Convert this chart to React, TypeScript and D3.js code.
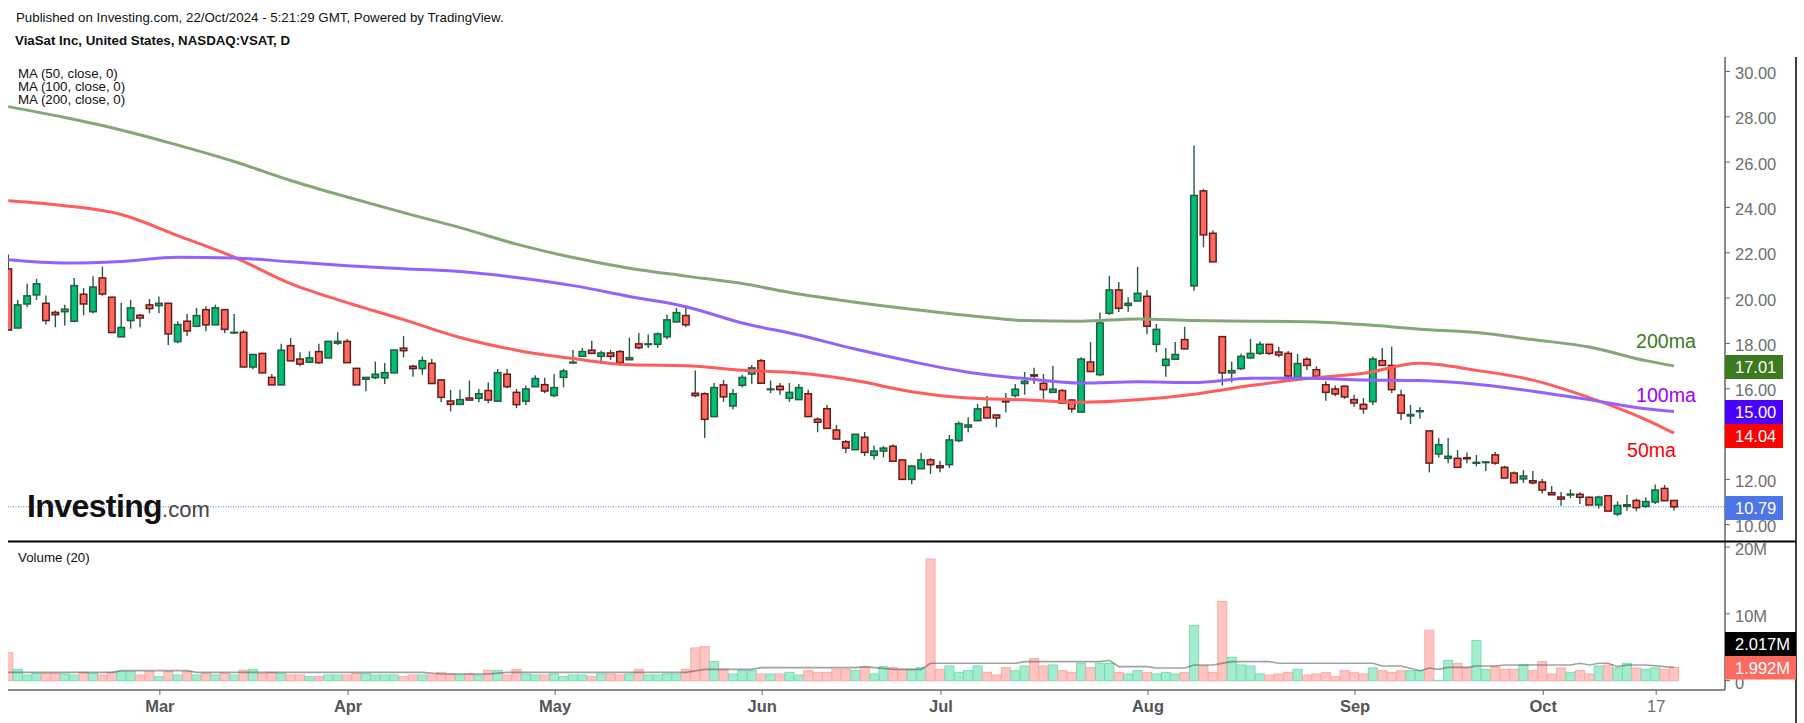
import * as React from "react";
import * as d3 from "d3";

// daily candles, one entry per session from the left edge of the chart
const opens = [21.29,18.68,19.74,20.14,19.77,19.37,19.40,18.98,20.17,19.40,20.89,20.04,18.29,19.01,19.24,19.70,19.67,19.77,18.08,18.98,18.76,19.49,18.82,19.49,18.46,18.49,16.96,17.56,16.50,16.17,17.90,
  17.31,17.17,17.64,17.36,18.01,18.09,16.90,16.42,16.49,16.48,16.70,17.79,16.99,16.89,17.12,16.39,15.46,15.31,15.59,15.58,15.92,15.45,16.64,15.84,15.45,16.09,16.18,15.70,16.50,17.14,17.43,17.70,
  17.43,17.58,17.64,17.28,17.98,17.95,17.96,18.29,18.95,19.23,15.80,15.78,14.77,16.17,15.24,16.15,16.65,17.24,15.96,16.11,15.58,15.52,15.78,14.65,15.12,14.18,13.66,13.31,13.86,13.06,13.25,13.46,
  12.86,12.00,12.47,12.86,12.60,12.65,13.71,14.31,14.59,15.18,14.84,15.47,15.70,16.23,16.61,16.24,15.84,15.92,15.50,
  14.97,17.18,16.62,19.33,20.36,19.68,19.87,20.08,17.96,17.03,17.30,18.17,20.54,24.73,22.86,18.30,16.70,16.89,17.36,17.56,17.96,17.62,17.56,16.50,17.30,16.84,16.18,15.99,
  16.11,15.52,15.31,15.43,17.24,17.03,15.72,14.80,14.99,14.14,13.12,12.93,12.93,12.96,12.71,12.74,13.08,12.53,12.28,12.02,11.94,11.88,11.41,11.22,11.31,11.34,11.21,10.87,11.28,10.47,10.81,11.07,10.81,11.00,11.60,11.07];
const highs = [21.92,19.92,20.63,20.85,20.11,19.45,19.71,20.89,20.45,20.96,21.39,20.04,19.79,19.92,19.30,19.96,20.07,19.80,18.98,19.30,19.57,19.64,19.71,19.51,19.30,18.59,17.54,17.58,16.65,17.98,18.24,
  17.61,17.65,17.98,18.09,18.49,18.20,16.92,16.50,17.20,17.14,17.71,18.33,17.06,17.42,17.31,16.39,15.95,15.95,16.36,15.99,16.27,16.87,16.87,15.99,16.14,16.59,16.48,16.65,16.87,17.71,17.80,18.12,
  17.68,17.71,17.71,18.26,18.46,18.39,18.49,19.26,19.57,19.70,16.80,15.84,16.25,16.39,15.99,16.61,17.05,17.31,16.36,16.25,16.25,16.21,15.95,14.74,15.28,14.40,13.74,13.99,14.09,13.49,13.47,13.55,
  12.90,12.62,13.16,12.94,12.81,13.96,14.55,14.74,15.33,15.68,14.86,15.81,16.21,16.74,16.93,16.65,17.01,15.98,15.55,
  17.39,18.06,19.37,20.98,20.71,20.04,21.38,20.36,18.86,17.80,18.06,18.73,26.73,24.82,22.98,18.32,17.20,17.54,18.20,18.09,17.98,17.84,17.67,17.54,17.39,16.99,16.33,16.14,
  16.14,15.74,15.59,17.42,17.80,17.86,15.95,15.28,15.18,14.14,13.81,13.83,13.30,13.19,13.08,12.80,13.21,12.60,12.35,12.41,12.37,12.02,11.71,11.44,11.56,11.43,11.24,11.28,11.30,11.03,11.31,11.16,11.21,11.77,11.75,11.09];
const lows = [18.59,18.68,19.60,19.92,18.83,18.71,18.79,18.93,19.24,19.33,20.11,18.48,18.29,18.65,18.71,19.33,19.33,17.93,18.01,18.33,18.71,18.54,18.82,18.45,18.42,16.96,16.86,16.70,16.17,16.17,17.23,
  16.99,17.14,17.09,17.36,17.93,17.15,16.17,15.89,16.42,16.21,16.70,17.39,16.53,16.62,16.23,15.40,15.00,15.28,15.50,15.40,15.36,15.45,16.02,15.14,15.28,16.09,15.80,15.62,16.06,17.09,17.43,17.53,
  17.09,17.27,17.01,17.28,17.74,17.80,17.80,18.18,18.95,18.71,15.62,13.83,14.77,15.42,15.09,16.06,16.21,16.21,15.81,15.74,15.42,15.50,14.77,14.08,14.25,13.78,13.15,13.31,13.03,12.88,12.97,12.80,
  12.00,11.78,12.47,12.24,12.31,12.50,13.64,14.08,14.59,14.71,14.30,14.96,15.61,15.74,16.21,15.55,15.84,15.37,14.94,
  14.97,16.76,16.55,19.26,19.39,19.39,19.87,18.40,17.61,16.53,17.30,17.76,20.32,22.24,21.60,16.14,16.28,16.83,17.33,17.49,17.49,17.39,16.36,16.50,16.83,16.42,15.47,15.67,
  15.55,15.21,14.89,15.28,17.01,15.81,14.62,14.44,14.69,12.31,12.97,12.71,12.53,12.71,12.58,12.37,12.65,12.06,11.85,11.84,11.77,11.38,11.32,10.84,11.18,10.91,10.87,10.72,10.60,10.38,10.62,10.59,10.74,10.91,11.06,10.63];
const closes = [18.59,19.70,20.10,20.63,19.01,19.27,19.51,20.55,19.74,20.49,20.18,18.48,18.70,19.57,19.12,19.54,19.77,18.42,18.83,18.55,19.23,18.82,19.57,18.62,18.49,16.96,17.51,16.70,16.17,17.70,17.23,
  17.09,17.36,17.15,18.09,18.09,17.15,16.17,16.50,16.64,16.71,17.71,17.68,16.89,17.24,16.23,15.62,15.31,15.52,15.50,15.78,15.50,16.71,16.09,15.30,15.99,16.45,15.90,16.05,16.78,17.17,17.64,17.56,
  17.58,17.43,17.15,17.37,17.81,17.98,18.42,19.04,19.36,18.82,15.70,14.65,16.05,15.64,15.78,16.50,16.92,16.24,15.99,15.96,15.84,16.05,14.77,14.52,14.25,13.78,13.38,13.99,13.19,13.25,13.38,12.80,
  12.00,12.59,12.86,12.65,12.52,13.74,14.46,14.40,15.11,14.71,14.71,15.42,15.98,16.33,16.56,15.96,15.98,15.37,15.11,
  17.31,16.76,18.90,20.36,19.55,19.77,20.21,18.76,18.62,17.30,17.51,17.76,24.53,22.79,21.60,16.70,16.80,17.43,17.56,17.96,17.56,17.49,16.56,17.11,17.03,16.55,15.84,15.77,
  15.64,15.37,15.11,17.31,17.03,15.96,14.92,14.86,15.03,12.72,13.53,13.02,12.53,12.91,12.75,12.77,12.72,12.06,11.85,12.15,11.85,11.53,11.32,11.13,11.35,11.21,10.87,11.22,10.60,10.85,10.88,10.75,11.02,11.53,11.06,10.79];
const volumes = [4.20,1.70,0.85,1.10,1.10,1.10,1.00,0.85,1.25,1.10,0.85,1.25,1.35,1.35,0.85,1.35,0.60,1.35,0.85,1.35,0.85,1.10,0.85,1.10,0.85,1.55,1.70,1.10,1.25,1.05,0.85,0.85,0.60,0.60,0.85,0.85,0.85,1.10,1.05,0.85,0.85,0.85,0.60,0.85,0.85,0.85,1.25,
  1.00,0.85,1.00,0.85,1.55,1.55,0.85,1.70,1.00,0.85,0.85,1.00,0.60,0.85,0.85,0.60,1.00,1.00,0.85,1.00,1.70,0.85,0.85,1.00,1.00,1.70,4.90,5.10,2.85,1.70,1.00,1.50,1.50,1.00,1.00,1.00,1.25,0.85,1.50,1.25,1.25,1.70,1.70,1.50,2.00,1.00,2.10,1.95,
  1.70,1.70,1.95,18.20,1.70,2.20,1.25,1.50,2.20,1.25,0.85,1.95,1.50,2.20,3.30,2.20,2.35,1.50,1.25,2.60,1.95,2.60,2.60,1.25,1.00,1.50,1.25,1.00,1.25,1.00,1.25,8.25,2.20,1.25,11.85,3.50,2.35,2.20,1.00,0.85,1.00,1.25,1.70,0.85,1.00,1.25,0.60,1.50,
  1.25,1.00,1.90,1.50,1.25,1.50,1.50,1.50,7.55,0.05,3.05,2.60,1.90,6.00,1.70,2.10,1.70,1.70,2.35,1.50,2.85,1.00,1.90,1.25,1.50,1.00,2.20,2.35,1.90,2.60,1.90,1.70,1.90,1.70,1.99];

// moving averages read every sixth session
const maSessions = [0,6,12,18,24,30,36,42,48,54,60,66,72,78,84,90,96,102,108,114,120,126,132,138,144,150,156,162,168,174,177];
const ma50 = [24.30,24.08,23.69,22.76,21.81,20.64,19.80,19.05,18.26,17.70,17.33,17.06,17.02,16.82,16.69,16.36,15.87,15.59,15.51,15.40,15.51,15.76,16.14,16.45,16.68,17.12,16.81,16.38,15.61,14.64,14.04];
const ma100 = [21.69,21.55,21.62,21.80,21.77,21.60,21.43,21.30,21.17,20.91,20.55,20.07,19.62,18.90,18.37,17.75,17.20,16.73,16.45,16.25,16.31,16.27,16.46,16.46,16.39,16.36,16.20,15.89,15.52,15.12,15.00];
const ma200 = [28.45,27.97,27.42,26.75,26.03,25.19,24.46,23.77,23.11,22.38,21.79,21.32,20.97,20.64,20.18,19.82,19.51,19.23,19.01,18.98,19.08,19.01,18.98,18.96,18.83,18.63,18.48,18.17,17.84,17.24,17.01];

const volMaSessions = [0,11,12,19,20,44,46,51,53,72,74,79,80,90,91,94,97,98,107,108,116,117,118,121,122,125,126,128,130,134,135,143,145,146,148,150,151,152,153,155,156,158,159,166,167,168,169,170,171,172,174,176,177];
const volMa = [1.25,1.25,1.5,1.5,1.25,1.25,1.0,1.0,1.25,1.25,1.7,1.7,1.95,1.95,2.1,1.7,1.7,2.6,2.6,2.85,2.85,3.05,2.1,2.1,1.9,1.9,2.35,2.35,2.85,2.85,2.6,2.6,2.6,2.2,2.2,1.5,1.9,1.7,2.0,2.0,2.2,2.2,2.35,2.35,2.6,2.35,2.6,2.6,2.1,2.35,2.35,2.1,2.02];

const priceTicks = [10,12,14,16,18,20,22,24,26,28,30];
const volumeTicks = [0,10,20];
const monthTicks = [["Mar",16],["Apr",36],["May",58],["Jun",80],["Jul",99],["Aug",121],["Sep",143],["Oct",163]] as [string, number][];
const dayTicks = [["17",175]] as [string, number][];

const FONT = "'Liberation Sans', Arial, sans-serif";

function drawChart(node: SVGSVGElement) {
  const svg = d3.select(node);
  svg.selectAll("*").remove();

  const x = d3.scaleLinear().domain([0, 177]).range([8.3, 1674]);
  const y = d3.scaleLinear().domain([10, 30]).range([524.7, 71.5]);
  const yVol = d3.scaleLinear().domain([0, 20]).range([680.7, 547]);
  const bodyW = 6.5;
  const barW = 9.4;

  svg.append("clipPath").attr("id", "plot").append("rect")
    .attr("x", 8).attr("y", 50).attr("width", 1717).attr("height", 640);

  const plot = svg.append("g").attr("clip-path", "url(#plot)");
  const sessions = d3.range(opens.length);
  const isUp = (i: number) => closes[i] >= opens[i];

  // volume
  plot.append("g").selectAll("rect").data(sessions).enter().append("rect")
    .attr("x", (i) => x(i) - barW / 2 + 0.2)
    .attr("y", (i) => yVol(volumes[i]))
    .attr("width", barW - 0.4)
    .attr("height", (i) => yVol(0) - yVol(volumes[i]))
    .attr("fill", (i) => (isUp(i) ? "#a5eccf" : "#ffc5c2"))
    .attr("stroke", (i) => (isUp(i) ? "#72e0b4" : "#ffa9a4"))
    .attr("stroke-width", 1);

  plot.append("path")
    .attr("d", d3.line<number>().x((s) => x(s)).y((_, k) => yVol(volMa[k]))(volMaSessions))
    .attr("fill", "none").attr("stroke", "#555").attr("stroke-opacity", 0.55).attr("stroke-width", 1.6);

  // last price line
  plot.append("line")
    .attr("x1", 8).attr("x2", 1725).attr("y1", y(10.79)).attr("y2", y(10.79))
    .attr("stroke", "#4d74e8").attr("stroke-dasharray", "1 1.5");

  // candles
  const candle = plot.append("g").selectAll("g").data(sessions).enter().append("g");
  candle.append("line")
    .attr("x1", (i) => x(i)).attr("x2", (i) => x(i))
    .attr("y1", (i) => y(highs[i])).attr("y2", (i) => y(lows[i]))
    .attr("stroke", "#235c40").attr("stroke-width", 1.4);
  candle.append("rect")
    .attr("x", (i) => x(i) - bodyW / 2)
    .attr("y", (i) => y(Math.max(opens[i], closes[i])))
    .attr("width", bodyW)
    .attr("height", (i) => Math.abs(y(opens[i]) - y(closes[i])))
    .attr("fill", (i) => (isUp(i) ? "#00c073" : "#ff6a5e"))
    .attr("stroke", (i) => (isUp(i) ? "#235c40" : "#641c1c"))
    .attr("stroke-width", 1.5);

  // moving averages
  const maLine = d3.line<number>().x((s) => x(s)).curve(d3.curveMonotoneX);
  ([[ma200, "#83a878"], [ma50, "#ff5c5c"], [ma100, "#9461ff"]] as [number[], string][]).forEach(([values, colour]) => {
    plot.append("path")
      .attr("d", maLine.y((_, k) => y(values[k]))(maSessions))
      .attr("fill", "none").attr("stroke", colour).attr("stroke-width", 3);
  });

  // frame
  const frame = svg.append("g");
  frame.append("line").attr("x1", 8).attr("x2", 1725).attr("y1", 690).attr("y2", 690).attr("stroke", "#666").attr("stroke-width", 1.5);
  frame.append("line").attr("x1", 1725).attr("x2", 1725).attr("y1", 57).attr("y2", 690).attr("stroke", "#666").attr("stroke-width", 1.5);
  frame.append("line").attr("x1", 1796).attr("x2", 1796).attr("y1", 57).attr("y2", 723).attr("stroke", "#000").attr("stroke-width", 1.5);
  frame.append("line").attr("x1", 8).attr("x2", 1796).attr("y1", 541.5).attr("y2", 541.5).attr("stroke", "#000").attr("stroke-width", 2);

  const text = (parent: d3.Selection<any, any, any, any>, tx: number, ty: number, s: string, size: number, fill: string, weight = "normal", anchor = "start") =>
    parent.append("text").attr("x", tx).attr("y", ty).attr("font-family", FONT).attr("font-size", size)
      .attr("fill", fill).attr("font-weight", weight).attr("text-anchor", anchor).text(s);

  // right axes
  const axis = svg.append("g");
  priceTicks.forEach((t) => {
    axis.append("line").attr("x1", 1725).attr("x2", 1730).attr("y1", y(t)).attr("y2", y(t)).attr("stroke", "#666");
    text(axis, 1735, y(t) + 7.5, t.toFixed(2), 16.5, "#6e6e6e");
  });
  volumeTicks.forEach((t) => {
    axis.append("line").attr("x1", 1725).attr("x2", 1730).attr("y1", yVol(t)).attr("y2", yVol(t)).attr("stroke", "#666");
    text(axis, 1735, yVol(t) + 8, t === 0 ? "0" : `${t}M`, 16.5, "#6e6e6e");
  });

  // bottom axis
  monthTicks.concat(dayTicks).forEach(([label, s]) => {
    const isDay = dayTicks.some((d) => d[0] === label);
    const tx = x(s) + 1;
    axis.append("line").attr("x1", tx).attr("x2", tx).attr("y1", 690).attr("y2", 695).attr("stroke", "#666");
    text(axis, tx, 712, label, 16.5, isDay ? "#6e6e6e" : "#555", isDay ? "normal" : "bold", "middle");
  });

  // value tags
  const tags: [string, number, number, string, number][] = [
    ["17.01", 355, 24, "#3b7a1e", 1783],
    ["15.00", 400, 24, "#4b00ff", 1783],
    ["14.04", 424, 24, "#ff0000", 1783],
    ["10.79", 496, 24, "#4d74e8", 1783],
    ["2.017M", 632, 24, "#000000", 1796],
    ["1.992M", 656, 23.5, "#ff6a60", 1796],
  ];
  tags.forEach(([label, top, h, colour, right]) => {
    axis.append("rect").attr("x", 1725).attr("y", top).attr("width", right - 1725).attr("height", h).attr("fill", colour);
    text(axis, 1735, top + 18, label, 16.5, "#fff");
  });

  // annotations
  text(svg, 1636, 348, "200ma", 19.6, "#3b7a1e");
  text(svg, 1636, 402, "100ma", 19.6, "#9900ff");
  text(svg, 1627, 457, "50ma", 19.6, "#ff0000");

  // header and legends
  text(svg, 16, 22, "Published on Investing.com, 22/Oct/2024 - 5:21:29 GMT, Powered by TradingView.", 13.3, "#111");
  text(svg, 15, 45, "ViaSat Inc, United States, NASDAQ:VSAT, D", 13.3, "#111", "bold");
  text(svg, 18, 78, "MA (50, close, 0)", 13.3, "#111");
  text(svg, 18, 91, "MA (100, close, 0)", 13.3, "#111");
  text(svg, 18, 104, "MA (200, close, 0)", 13.3, "#111");
  text(svg, 18, 562, "Volume (20)", 13.3, "#111");

  // logo
  const logo = text(svg, 27, 517, "Investing", 32, "#111", "bold").attr("letter-spacing", -0.6);
  logo.append("tspan").attr("font-weight", "normal").attr("fill", "#444").attr("font-size", 22).attr("letter-spacing", 0).text(".com");
}

const App: React.FunctionComponent = () => {
  const svg = React.useRef<SVGSVGElement>(null);
  React.useEffect(() => {
    if (svg.current) drawChart(svg.current);
  }, []);

  return (
    <svg
      ref={svg}
      width={1804}
      height={723}
      style={{ position: "absolute", left: 0, top: 0, background: "#fff" }}
    />
  );
};

export default App;
